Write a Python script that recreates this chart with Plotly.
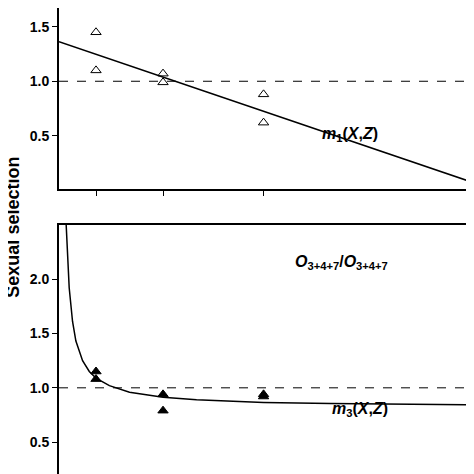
import plotly.graph_objects as go
from plotly.subplots import make_subplots

x_pts = [1, 1, 2, 2, 3.5, 3.5]
top_y = [1.45, 1.10, 1.07, 0.99, 0.88, 0.62]
bot_y = [1.15, 1.08, 0.94, 0.79, 0.94, 0.92]
top_line_x = [0.448, 6.61]
top_line_y = [1.364, 0.073]
curve_x = [0.555, 0.57, 0.6, 0.65, 0.7, 0.8, 0.9, 1.0, 1.2, 1.5, 2.0, 2.5, 3.0, 3.5, 4.5, 5.5, 6.61]
curve_y = [2.50, 2.25, 1.92, 1.61, 1.43, 1.25, 1.15, 1.09, 1.02, 0.96, 0.913, 0.89, 0.875, 0.866, 0.855, 0.848, 0.843]
ref_y = 1.0

L, R = 51, 10
PW = 474 - L - R
OFF = 8  # page body offset


def px(sx):
    return (sx - OFF - L) / PW


def py(sy):
    return 1 - (sy - OFF) / 474


fig = make_subplots(rows=2, cols=1, vertical_spacing=0)
mk = dict(symbol="triangle-up", size=9, color="black", line=dict(color="black", width=1))
fig.add_trace(go.Scatter(x=x_pts, y=top_y, mode="markers",
                         marker=dict(mk, symbol="triangle-up-open")), 1, 1)
fig.add_trace(go.Scatter(x=top_line_x, y=top_line_y, mode="lines", line=dict(color="black", width=1.5)), 1, 1)
fig.add_trace(go.Scatter(x=x_pts, y=bot_y, mode="markers", marker=mk), 2, 1)
fig.add_trace(go.Scatter(x=curve_x, y=curve_y, mode="lines", line=dict(color="black", width=1.5)), 2, 1)
for r in (1, 2):
    fig.add_trace(go.Scatter(x=[0.448, 6.61], y=[ref_y, ref_y], mode="lines",
                             line=dict(color="black", width=1, dash="dash")), r, 1)

font = dict(family="Liberation Sans", size=14, color="black")
ax = dict(showline=True, linecolor="black", linewidth=2, ticks="outside", ticklen=5,
          tickcolor="black", showgrid=False, zeroline=False, tickfont=font)
fig.update_layout(
    width=474, height=474, margin=dict(l=L, r=R, t=0, b=0),
    plot_bgcolor="white", paper_bgcolor="white", showlegend=False,
    xaxis=dict(ax, domain=[0, 1], range=[0.448, 6.61], tickvals=[1, 2, 3.5], showticklabels=False, mirror=False),
    xaxis2=dict(ax, domain=[0, 1], range=[0.448, 6.61], tickvals=[1, 2, 3.5], showticklabels=False, mirror=True),
    yaxis=dict(ax, domain=[0.614, 1], range=[0.01, 1.673], tickvals=[0.5, 1.0, 1.5],
               ticktext=["<b>0.5</b>", "<b>1.0</b>", "<b>1.5</b>"], mirror="ticks"),
    yaxis2=dict(ax, domain=[0, 0.538], range=[0.18, 2.5], tickvals=[0.5, 1.0, 1.5, 2.0],
                ticktext=["<b>0.5</b>", "<b>1.0</b>", "<b>1.5</b>", "<b>2.0</b>"], mirror="ticks"),
)
af = dict(family="Liberation Sans", size=16, color="black")
fig.add_annotation(text="<b><i>m</i><sub>1</sub>(<i>X</i>,<i>Z</i>)</b>", x=px(380), y=py(124),
                   xref="paper", yref="paper", showarrow=False, font=af)
fig.add_annotation(text="<b><i>O</i><sub>3+4+7</sub>/<i>O</i><sub>3+4+7</sub></b>", x=px(390), y=py(265),
                   xref="paper", yref="paper", showarrow=False, font=af)
fig.add_annotation(text="<b><i>m</i><sub>3</sub>(<i>X</i>,<i>Z</i>)</b>", x=px(390), y=py(425),
                   xref="paper", yref="paper", showarrow=False, font=af)
fig.add_annotation(text="<b>Sexual selection</b>", textangle=-90, x=px(13), y=py(230),
                   xref="paper", yref="paper", showarrow=False, xanchor="center",
                   font=dict(family="Liberation Sans", size=18, color="black"))
fig.write_html("out.html")
